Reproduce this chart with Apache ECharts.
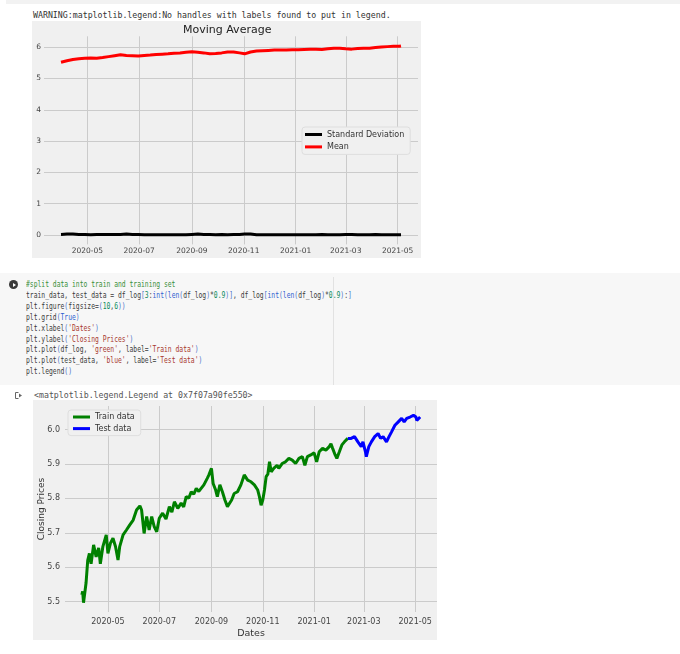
<!DOCTYPE html>
<html><head><meta charset="utf-8">
<script src="https://cdn.jsdelivr.net/npm/echarts@6/dist/echarts.min.js"></script>
<style>
html,body{margin:0;padding:0;width:680px;height:654px;background:#fff;overflow:hidden;font-family:"DejaVu Sans",sans-serif;}
.abs{position:absolute;}
.mono{font-family:"DejaVu Sans Mono",monospace;white-space:pre;}
#topbar{left:6px;top:0;width:674px;height:4px;background:#f2f2f2;}
#warn{left:33px;top:10px;font-size:8.25px;line-height:10px;color:#333;}
#c1{left:32px;top:21px;width:389px;height:237px;background:#f0f0f0;}
#cell{left:0;top:273px;width:680px;height:112px;background:#f7f7f7;}
#ruler{left:333px;top:277px;width:1px;height:108px;background:#e2e2e2;}
#play{left:9px;top:280px;width:9px;height:9px;border-radius:50%;background:#3a3a3a;}
#play:after{content:"";position:absolute;left:3.5px;top:2.5px;border-left:3.5px solid #fff;border-top:2px solid transparent;border-bottom:2px solid transparent;}
#code{left:26px;top:279px;font-size:8.4px;line-height:10.9px;color:#3b3b3b;transform:scaleX(0.76);transform-origin:0 0;}
.cm{color:#3a8f3a}.nu{color:#0b8a5c}.st{color:#a8372f}.kw{color:#2f5fd0}.br{color:#4a72c8}
#outtxt{left:34px;top:390px;font-size:8.25px;line-height:10px;color:#555;}
#c2{left:33px;top:400px;width:404px;height:240px;background:#f0f0f0;}
</style></head>
<body>
<div id="topbar" class="abs"></div>
<div id="warn" class="abs mono">WARNING:matplotlib.legend:No handles with labels found to put in legend.</div>
<div id="c1" class="abs"></div>
<div id="cell" class="abs"></div>
<div id="ruler" class="abs"></div>
<div id="play" class="abs"></div>
<div id="code" class="abs mono"><span class="cm">#split data into train and training set</span>
train_data, test_data = df_log<span class="br">[</span><span class="nu">3</span>:<span class="kw">int</span><span class="br">(</span><span class="kw">len</span><span class="br">(</span>df_log<span class="br">)</span>*<span class="nu">0.9</span><span class="br">)]</span>, df_log<span class="br">[</span><span class="kw">int</span><span class="br">(</span><span class="kw">len</span><span class="br">(</span>df_log<span class="br">)</span>*<span class="nu">0.9</span><span class="br">)</span>:<span class="br">]</span>
plt.figure<span class="br">(</span>figsize=<span class="br">(</span><span class="nu">10</span>,<span class="nu">6</span><span class="br">))</span>
plt.grid<span class="br">(</span><span class="kw">True</span><span class="br">)</span>
plt.xlabel<span class="br">(</span><span class="st">'Dates'</span><span class="br">)</span>
plt.ylabel<span class="br">(</span><span class="st">'Closing Prices'</span><span class="br">)</span>
plt.plot<span class="br">(</span>df_log, <span class="st">'green'</span>, label=<span class="st">'Train data'</span><span class="br">)</span>
plt.plot<span class="br">(</span>test_data, <span class="st">'blue'</span>, label=<span class="st">'Test data'</span><span class="br">)</span>
plt.legend<span class="br">()</span></div>
<svg class="abs" style="left:14px;top:391px" width="9" height="9"><path d="M1.5 1.5h3M1.5 1.5v6h3" stroke="#666" stroke-width="1" fill="none"/><path d="M5 2.5l3 2-3 2z" fill="#666"/></svg>
<div id="outtxt" class="abs mono">&lt;matplotlib.legend.Legend at 0x7f07a90fe550&gt;</div>
<div id="c2" class="abs"></div>
<script>
// ---- Moving average chart data ----
const maDates = ['2020-03-31','2020-04-07','2020-04-14','2020-04-21','2020-04-28','2020-05-05','2020-05-12','2020-05-19','2020-05-26','2020-06-02',
'2020-06-09','2020-06-16','2020-06-23','2020-06-30','2020-07-07','2020-07-14','2020-07-21','2020-07-28','2020-08-04','2020-08-11',
'2020-08-18','2020-08-25','2020-09-01','2020-09-08','2020-09-15','2020-09-22','2020-09-29','2020-10-06','2020-10-13','2020-10-20',
'2020-10-27','2020-11-02','2020-11-09','2020-11-16','2020-11-23','2020-11-30','2020-12-07','2020-12-14','2020-12-21','2020-12-28',
'2021-01-04','2021-01-11','2021-01-18','2021-01-25','2021-02-01','2021-02-08','2021-02-15','2021-02-22','2021-03-01','2021-03-08',
'2021-03-15','2021-03-22','2021-03-29','2021-04-05','2021-04-12','2021-04-19','2021-04-26','2021-05-03','2021-05-05'];
const meanValues = [5.52,5.57,5.61,5.63,5.65,5.66,5.65,5.67,5.70,5.73,
5.76,5.74,5.73,5.72,5.74,5.75,5.77,5.78,5.79,5.81,
5.82,5.84,5.86,5.84,5.82,5.79,5.80,5.82,5.85,5.85,
5.82,5.79,5.85,5.88,5.89,5.90,5.91,5.91,5.91,5.92,
5.92,5.93,5.94,5.94,5.93,5.95,5.97,5.97,5.95,5.94,
5.96,5.97,5.97,5.99,6.01,6.02,6.03,6.03,6.04];
const stdValues = [0.02,0.03,0.03,0.02,0.02,0.01,0.02,0.02,0.02,0.02,
0.02,0.03,0.02,0.02,0.01,0.01,0.01,0.01,0.01,0.01,
0.01,0.01,0.02,0.03,0.02,0.02,0.01,0.02,0.01,0.02,
0.02,0.03,0.03,0.01,0.01,0.01,0.01,0.01,0.01,0.01,
0.01,0.01,0.01,0.01,0.02,0.01,0.01,0.01,0.02,0.02,
0.01,0.01,0.01,0.02,0.01,0.01,0.01,0.01,0.01];
const maLegend = ['Standard Deviation','Mean'];
const maTitle = 'Moving Average';

// ---- Train / test chart data ----
const trainDates = ['2020-03-31','2020-04-01','2020-04-02','2020-04-05','2020-04-07','2020-04-09','2020-04-11','2020-04-14','2020-04-17','2020-04-20',
'2020-04-22','2020-04-25','2020-04-29','2020-05-01','2020-05-04','2020-05-07','2020-05-10','2020-05-13','2020-05-15','2020-05-19',
'2020-05-23','2020-05-27','2020-05-31','2020-06-04','2020-06-08','2020-06-10','2020-06-13','2020-06-16','2020-06-19','2020-06-22',
'2020-06-25','2020-06-28','2020-07-01','2020-07-05','2020-07-09','2020-07-13','2020-07-16','2020-07-19','2020-07-23','2020-07-27',
'2020-07-30','2020-08-02','2020-08-05','2020-08-08','2020-08-11','2020-08-14','2020-08-17','2020-08-19','2020-08-23','2020-08-27',
'2020-08-29','2020-09-01','2020-09-03','2020-09-06','2020-09-08','2020-09-11','2020-09-14','2020-09-17','2020-09-20','2020-09-22',
'2020-09-25','2020-09-28','2020-10-02','2020-10-06','2020-10-10','2020-10-14','2020-10-18','2020-10-22','2020-10-26','2020-10-28',
'2020-10-30','2020-11-01','2020-11-03','2020-11-05','2020-11-07','2020-11-09','2020-11-11','2020-11-14','2020-11-18','2020-11-20',
'2020-11-24','2020-11-28','2020-12-02','2020-12-06','2020-12-10','2020-12-14','2020-12-18','2020-12-21','2020-12-24','2020-12-28',
'2021-01-01','2021-01-04','2021-01-07','2021-01-11','2021-01-15','2021-01-19','2021-01-21','2021-01-23','2021-01-26','2021-01-28',
'2021-01-31','2021-02-03','2021-02-06','2021-02-10'];
const trainValues = [5.52,5.53,5.497,5.554,5.62,5.64,5.61,5.665,5.63,5.656,
5.61,5.66,5.694,5.64,5.67,5.684,5.66,5.621,5.66,5.694,
5.708,5.723,5.737,5.766,5.778,5.766,5.698,5.747,5.708,5.747,
5.718,5.703,5.742,5.757,5.74,5.776,5.76,5.79,5.771,5.786,
5.775,5.805,5.80,5.819,5.812,5.829,5.82,5.824,5.839,5.858,
5.868,5.887,5.843,5.824,5.805,5.839,5.819,5.795,5.776,5.771,
5.795,5.814,5.819,5.839,5.868,5.853,5.848,5.839,5.824,5.805,
5.78,5.795,5.824,5.863,5.87,5.906,5.877,5.887,5.896,5.887,
5.901,5.906,5.916,5.911,5.901,5.916,5.921,5.896,5.921,5.926,
5.932,5.906,5.935,5.945,5.94,5.95,5.958,5.945,5.926,5.916,
5.935,5.955,5.964,5.974];
const testDates = ['2021-02-10','2021-02-14','2021-02-18','2021-02-22','2021-02-26','2021-02-28','2021-03-03','2021-03-04','2021-03-07','2021-03-10',
'2021-03-14','2021-03-18','2021-03-21','2021-03-24','2021-03-28','2021-03-31','2021-04-03','2021-04-07','2021-04-11','2021-04-15',
'2021-04-18','2021-04-21','2021-04-25','2021-04-29','2021-05-02','2021-05-03','2021-05-05','2021-05-07'];
const testValues = [5.974,5.974,5.979,5.964,5.95,5.964,5.935,5.921,5.95,5.964,
5.979,5.988,5.974,5.979,5.964,5.979,5.993,6.012,6.022,6.032,
6.022,6.032,6.036,6.041,6.036,6.026,6.022,6.036];
const tsLegend = ['Train data','Test data'];
const xName = 'Dates', yName = 'Closing Prices';

const pair = (d, v) => d.map((x, i) => [x, v[i]]);
const P = echarts.time.parse;
const pad2 = n => (n < 10 ? '0' : '') + n;
const fmtMonth = v => { const d = new Date(v); return d.getFullYear() + '-' + pad2(d.getMonth() + 1); };
const TXT = '#444';
const GRID = '#cbcbcb';
const FONT = 'DejaVu Sans';

function timeAxis(minD, maxD, fs, margin) {
  return {
    type: 'time', min: P(minD), max: P(maxD), splitNumber: 6,
    axisLine: {show: false}, axisTick: {show: false},
    axisLabel: {formatter: fmtMonth, color: TXT, fontSize: fs, fontFamily: FONT, margin: margin,
      showMinLabel: false, showMaxLabel: false, hideOverlap: false},
    splitLine: {show: true, showMinLine: false, showMaxLine: false, lineStyle: {color: GRID, width: 1}}
  };
}

const c1 = echarts.init(document.getElementById('c1'));
c1.setOption({
  animation: false,
  backgroundColor: '#f0f0f0',
  title: {text: maTitle, left: 151, top: 3.5, padding: 0,
    textStyle: {fontFamily: FONT, fontSize: 11, fontWeight: 'normal', color: '#222'}},
  grid: {left: 12, right: 3, top: 15.3, bottom: 13.6, outerBoundsMode: 'none', containLabel: false},
  legend: {orient: 'vertical', left: 270, top: 106, padding: [3, 6, 3, 3], itemGap: 3.4,
    itemWidth: 17, itemHeight: 3, icon: 'rect',
    backgroundColor: '#f0f0f0', borderColor: '#dedede', borderWidth: 1, borderRadius: 3,
    textStyle: {fontFamily: FONT, fontSize: 8, lineHeight: 9, color: '#333'},
    data: maLegend},
  xAxis: timeAxis('2020-03-11', '2021-05-25', 7.5, 3),
  yAxis: {type: 'value', min: -0.3, max: 6.35, splitNumber: 6,
    axisLine: {show: false}, axisTick: {show: false},
    axisLabel: {color: TXT, fontSize: 7.5, fontFamily: FONT, margin: 3, showMinLabel: false, showMaxLabel: false},
    splitLine: {lineStyle: {color: GRID, width: 1}, showMinLine: false, showMaxLine: false}},
  series: [
    {name: maLegend[0], type: 'line', showSymbol: false, data: pair(maDates, stdValues),
      lineStyle: {color: '#000', width: 3}, itemStyle: {color: '#000'}},
    {name: maLegend[1], type: 'line', showSymbol: false, data: pair(maDates, meanValues),
      lineStyle: {color: '#ff0000', width: 3}, itemStyle: {color: '#ff0000'}}
  ]
});

const c2 = echarts.init(document.getElementById('c2'));
c2.setOption({
  animation: false,
  backgroundColor: '#f0f0f0',
  grid: {left: 32, right: 0, top: 6, bottom: 28, outerBoundsMode: 'none', containLabel: false},
  legend: {orient: 'vertical', left: 35, top: 10, padding: [2.5, 6, 2.5, 5], itemGap: 2.6,
    itemWidth: 17, itemHeight: 3, icon: 'rect',
    backgroundColor: '#f0f0f0', borderColor: '#dedede', borderWidth: 1, borderRadius: 3,
    textStyle: {fontFamily: FONT, fontSize: 8, lineHeight: 9, color: '#333'},
    data: tsLegend},
  xAxis: Object.assign(timeAxis('2020-03-11', '2021-05-27', 8, 5.5), {
    name: xName, nameLocation: 'middle', nameGap: 16.5, nameMoveOverlap: false,
    nameTextStyle: {fontFamily: FONT, fontSize: 9.5, color: '#333'}}),
  yAxis: {type: 'value', min: 5.47, max: 6.068, splitNumber: 6,
    name: yName, nameLocation: 'middle', nameGap: 19, nameMoveOverlap: false,
    nameTextStyle: {fontFamily: FONT, fontSize: 9, color: '#333'},
    axisLine: {show: false}, axisTick: {show: false},
    axisLabel: {color: TXT, fontSize: 8, fontFamily: FONT, margin: 5,
      formatter: v => v.toFixed(1), showMinLabel: false, showMaxLabel: false},
    splitLine: {lineStyle: {color: GRID, width: 1}, showMinLine: false, showMaxLine: false}},
  series: [
    {name: tsLegend[0], type: 'line', showSymbol: false, data: pair(trainDates, trainValues),
      lineStyle: {color: '#008000', width: 3}, itemStyle: {color: '#008000'}},
    {name: tsLegend[1], type: 'line', showSymbol: false, data: pair(testDates, testValues),
      lineStyle: {color: '#0000ff', width: 3}, itemStyle: {color: '#0000ff'}}
  ]
});
</script>
</body></html>
